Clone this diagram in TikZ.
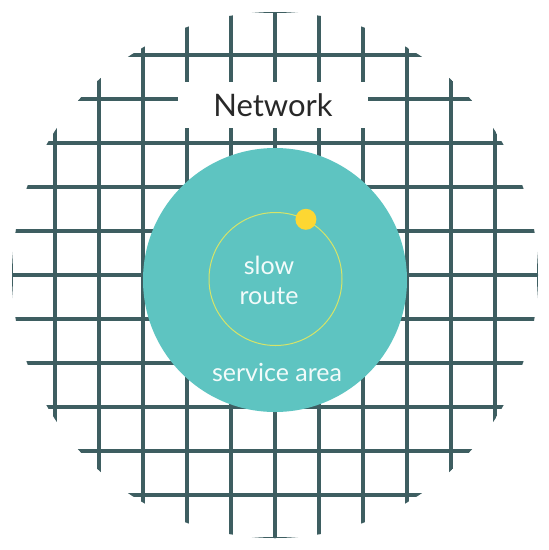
\documentclass[tikz,border=0pt]{standalone}
\usepackage{fontspec}
\setmainfont{Lato}
\usetikzlibrary{positioning}
\definecolor{gridteal}{RGB}{62,94,97}
\definecolor{areateal}{RGB}{94,196,193}
\definecolor{dotyellow}{RGB}{253,215,50}
\definecolor{routeyellow}{RGB}{214,228,104}
\definecolor{textwhite}{RGB}{242,251,250}
\definecolor{netgrey}{RGB}{40,40,40}
\tikzset{%
  street/.style = {line width=3.3pt, gridteal},
  area/.style = {circle, fill=areateal, minimum size=264pt, inner sep=0pt},
  route/.style = {circle, draw=routeyellow, line width=1pt,
        minimum size=133pt, inner sep=0pt},
  stop/.style = {circle, fill=dotyellow, minimum size=21pt, inner sep=0pt},
  lbl/.style = {text=textwhite, font=\fontsize{25}{30}\selectfont, align=center}
}

\begin{document}
\begin{tikzpicture}[x=1pt, y=-1pt]
    \useasboundingbox (0,0) rectangle (549,550);
    \coordinate (c) at (275,275);

    % street grid
    \begin{scope}
        \clip (c) circle (263);
        \foreach \k in {-6,...,6} {
            \draw[street] (275+44*\k,0) -- (275+44*\k,550);
            \draw[street] (0,275+44*\k) -- (550,275+44*\k);
        }
    \end{scope}

    \node[fill=white, minimum width=190pt, minimum height=46pt,
        text=netgrey, font=\fontsize{31}{36}\selectfont] (network) at (273,105) {Network};

    \node[area] (service) at (275,280) {};
    \node[route] (loop) at (275.5,279) {};
    \node[stop] (bus) at (loop.63) {};
    \node[lbl] (slow) at (269,280) {slow\\route};
    \node[lbl] (sa) at (277,372) {service area};
\end{tikzpicture}
\end{document}
